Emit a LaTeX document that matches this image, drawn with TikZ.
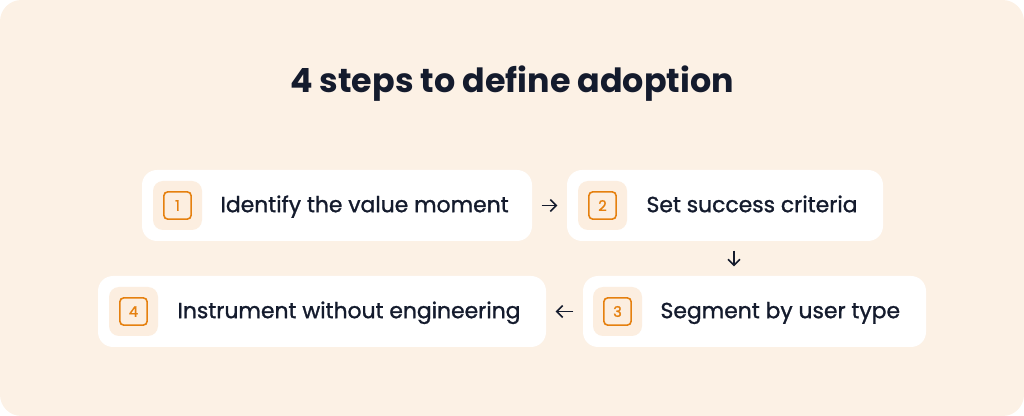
\documentclass[tikz,border=0pt]{standalone}
\usepackage{fontspec}
\setmainfont{Poppins}
\newfontfamily\medfont{Poppins}[FakeBold=1.2]
\usetikzlibrary{positioning,arrows.meta}
\definecolor{peach}{HTML}{FCF1E5}
\definecolor{badgebg}{HTML}{FCEEE0}
\definecolor{tangerine}{HTML}{E5800F}
\definecolor{ink}{HTML}{141B2D}
\tikzset{
  stepbox/.style={draw=none,fill=white,rounded corners=11.25pt,minimum height=53.25pt,inner sep=0},
  badge/.style={fill=badgebg,rounded corners=7.5pt,minimum size=36.75pt,inner sep=0},
  numbox/.style={draw=tangerine,line width=1.2pt,rounded corners=3pt,minimum size=20.5pt,inner sep=0,
    text=tangerine,font=\medfont\fontsize{11}{12}\selectfont},
  steptext/.style={anchor=base west,inner sep=0,text=ink,font=\medfont\fontsize{16.4}{18}\selectfont},
  flow/.style={-{Straight Barb[length=4.5pt,width=9pt]},line width=1.2pt,ink,shorten >=7pt,shorten <=7pt}
}
\begin{document}
\begin{tikzpicture}[x=0.75pt,y=-0.75pt]
	\useasboundingbox (0,0) rectangle (1024,416);
	\fill[peach,rounded corners=16pt] (0,0) rectangle (1024,416);
	% title
	\node[text=ink,font=\fontsize{25}{28}\bfseries\selectfont,anchor=base,inner sep=0](title) at (512,93){4 steps to define adoption};
	% boxes
	\path (337,205.5)node[stepbox,minimum width=292.5pt](s1){}
	(725,205.5)node[stepbox,minimum width=237pt](s2){}
	(754.5,311.5)node[stepbox,minimum width=257.25pt](s3){}
	(322,311.5)node[stepbox,minimum width=336pt](s4){};
	% badges
	\node[badge,right=8.25pt of s1.west](b1){};
	\node[badge,right=8.25pt of s2.west](b2){};
	\node[badge,right=7.5pt of s3.west](b3){};
	\node[badge,right=8.25pt of s4.west](b4){};
	\node[numbox] at (b1){1};
	\node[numbox] at (b2){2};
	\node[numbox] at (b3){3};
	\node[numbox] at (b4){4};
	% labels
	\node[steptext](t1) at ([xshift=13.5pt,yshift=-5pt]b1.east){Identify the value moment};
	\node[steptext](t2) at ([xshift=14.25pt,yshift=-5pt]b2.east){Set success criteria};
	\node[steptext](t3) at ([xshift=13.5pt,yshift=-5pt]b3.east){Segment by user type};
	\node[steptext](t4) at ([xshift=14.25pt,yshift=-5pt]b4.east){Instrument without engineering};
	% arrows
	\draw[flow](s1.east)--(s2.west);
	\draw[flow]([xshift=6.75pt]s2.south)--([xshift=6.75pt]s2.south |- s3.north);
	\draw[flow](s3.west)--(s4.east);
\end{tikzpicture}
\end{document}
